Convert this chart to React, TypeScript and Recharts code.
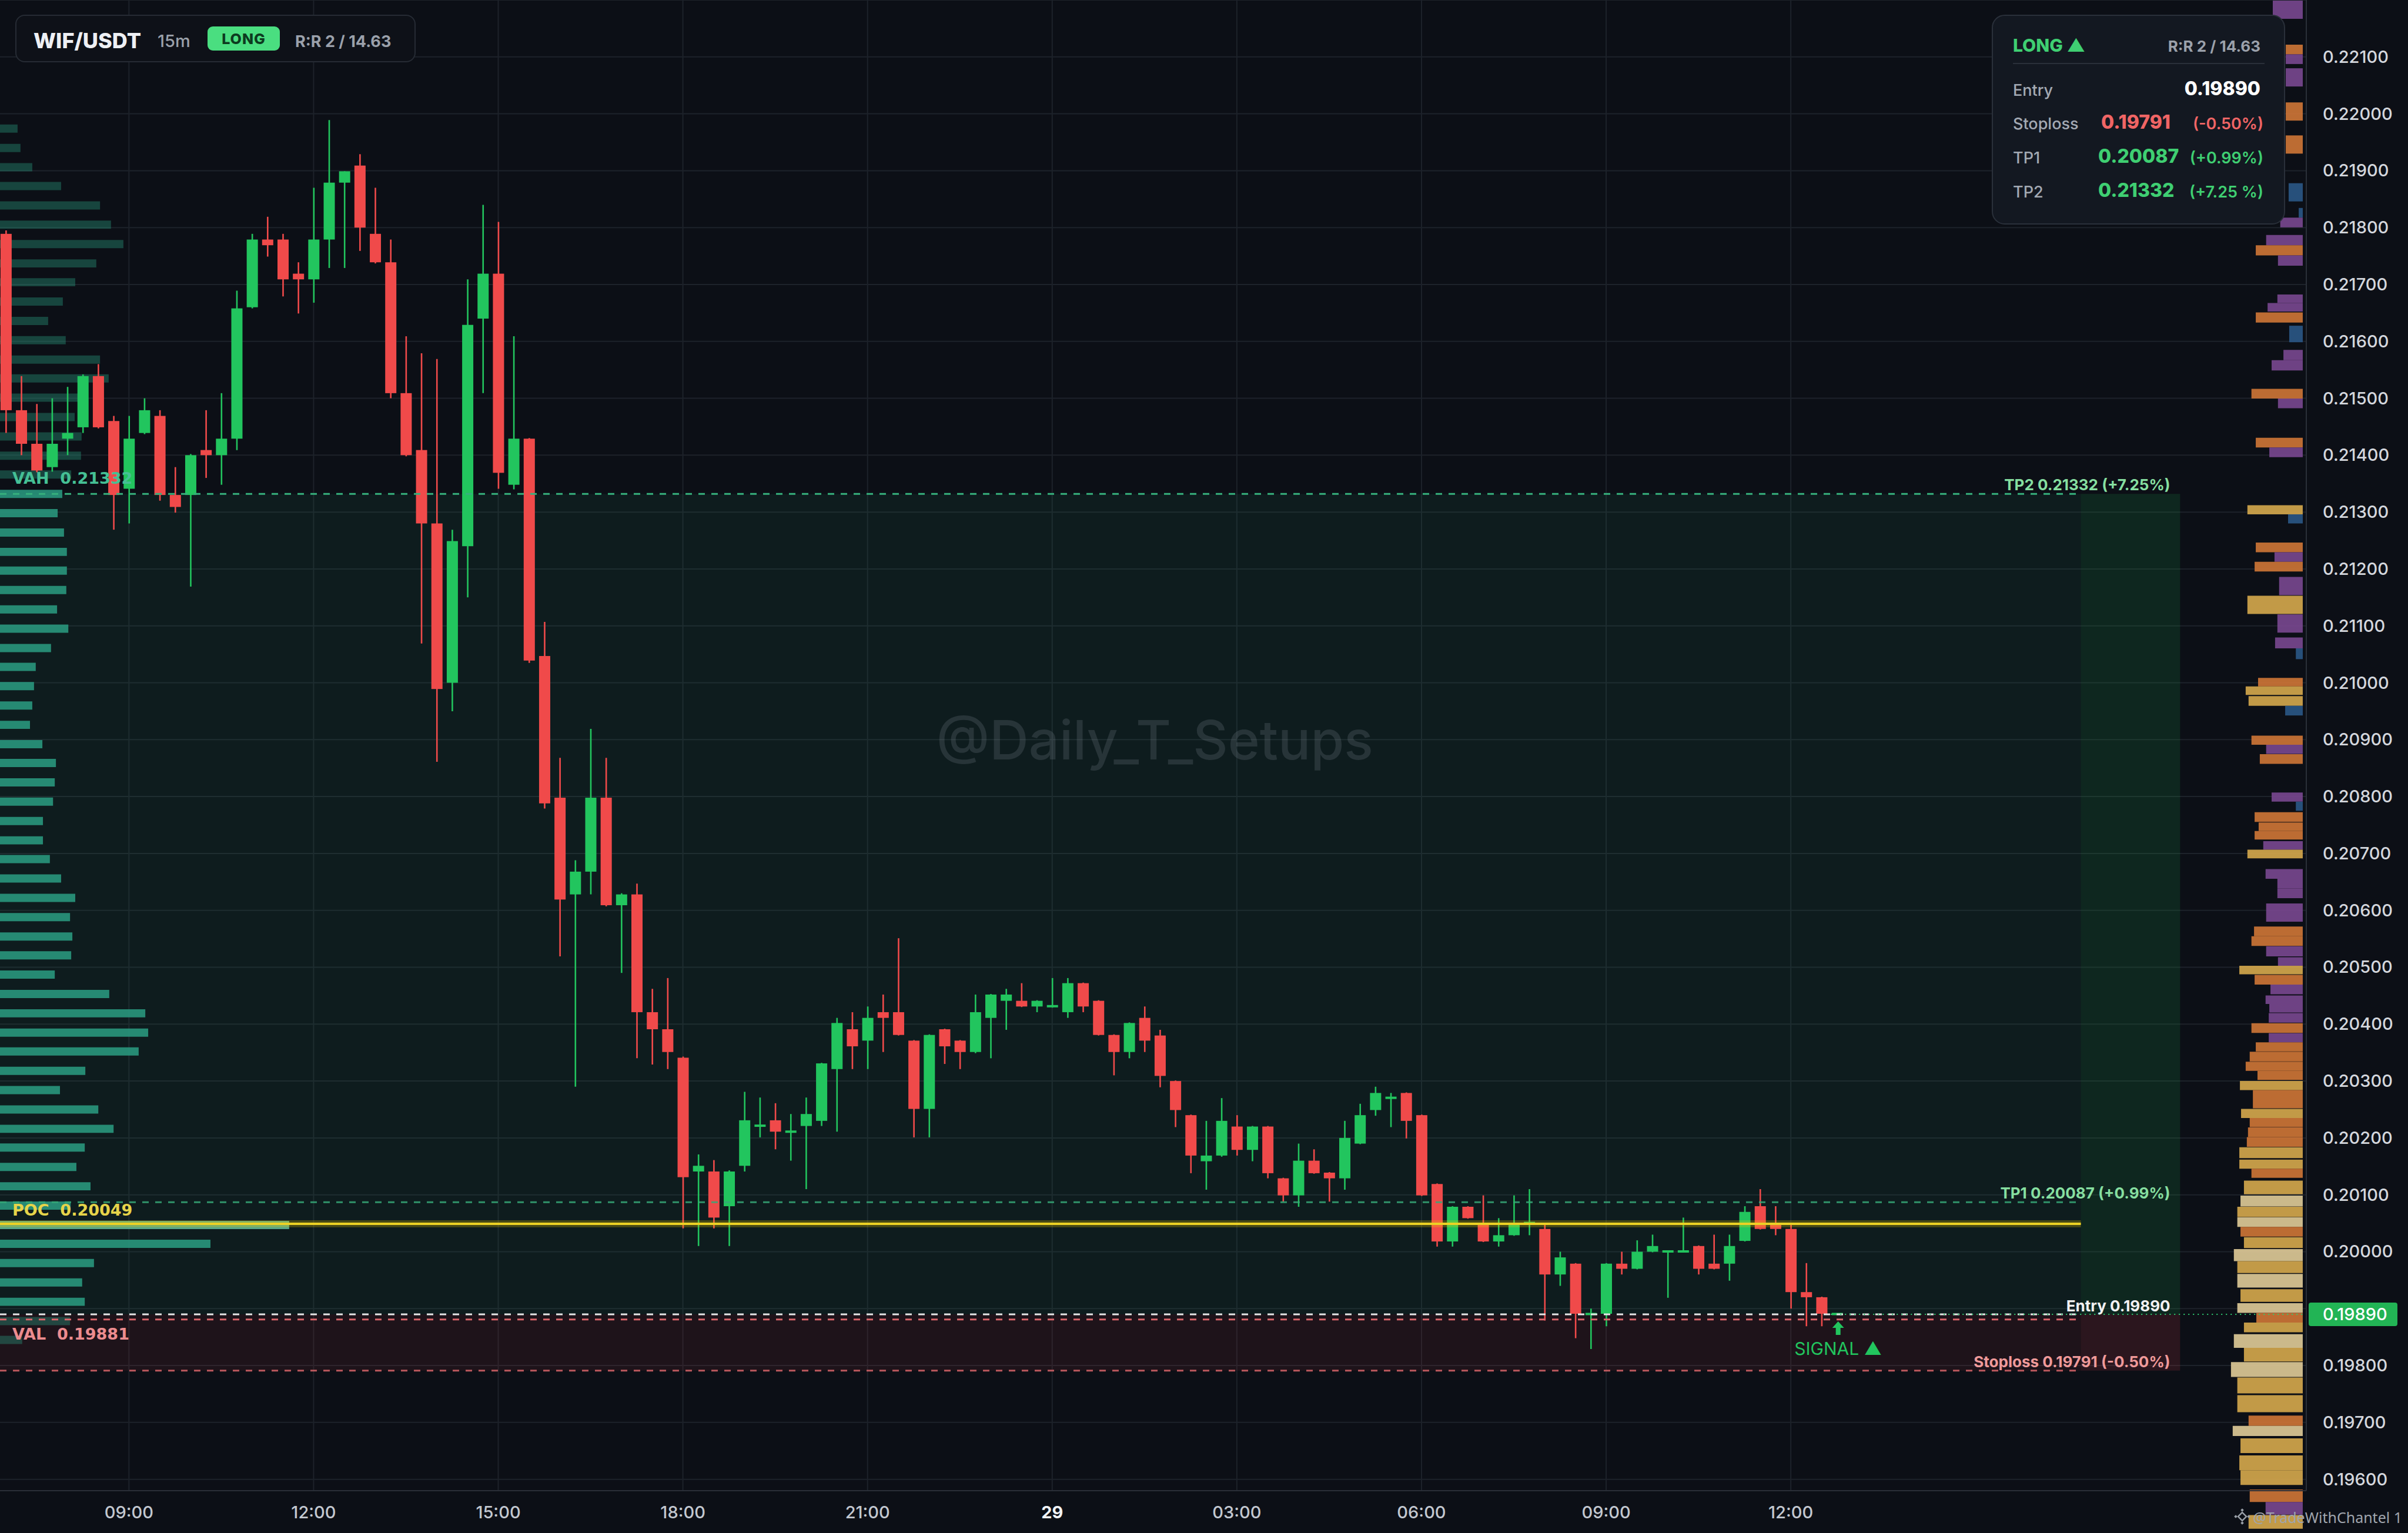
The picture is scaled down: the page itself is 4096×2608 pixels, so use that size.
import React from "react";
import {
  ComposedChart,
  Bar,
  XAxis,
  YAxis,
  CartesianGrid,
  ReferenceArea,
  ReferenceLine,
  ReferenceDot,
} from "recharts";

// ---------------- DATA ----------------
const cOpen = [0.21789,0.21479,0.21420,0.21379,0.21429,0.21449,0.21539,0.21460,0.21341,0.21439,
0.21469,0.21330,0.21330,0.21409,0.21400,0.21429,0.21660,0.21779,0.21779,0.21719,
0.21709,0.21779,0.21879,0.21909,0.21789,0.21739,0.21509,0.21409,0.21280,0.21000,
0.21240,0.21640,0.21719,0.21348,0.21429,0.21047,0.20798,0.20628,0.20668,0.20798,
0.20609,0.20628,0.20421,0.20391,0.20341,0.20141,0.20141,0.20080,0.20151,0.20220,
0.20231,0.20210,0.20221,0.20230,0.20321,0.20391,0.20371,0.20421,0.20421,0.20371,
0.20251,0.20391,0.20371,0.20351,0.20411,0.20441,0.20441,0.20431,0.20431,0.20421,
0.20472,0.20441,0.20381,0.20351,0.20411,0.20380,0.20300,0.20240,0.20159,0.20169,
0.20220,0.20179,0.20220,0.20129,0.20099,0.20160,0.20139,0.20129,0.20190,0.20249,
0.20270,0.20279,0.20240,0.20119,0.20018,0.20079,0.20049,0.20018,0.20029,0.20050,
0.20040,0.19960,0.19979,0.19890,0.19891,0.19979,0.19970,0.20000,0.20000,0.20000,
0.20010,0.19979,0.19979,0.20019,0.20080,0.20049,0.20040,0.19929,0.19920,0.19890];

const cHigh = [0.21795,0.21539,0.21490,0.21500,0.21520,0.21542,0.21560,0.21469,0.21469,0.21500,
0.21479,0.21379,0.21402,0.21479,0.21509,0.21689,0.21789,0.21819,0.21789,0.21739,
0.21870,0.21989,0.21899,0.21929,0.21870,0.21779,0.21609,0.21579,0.21569,0.21269,
0.21709,0.21840,0.21810,0.21609,0.21430,0.21107,0.20868,0.20688,0.20919,0.20868,
0.20630,0.20647,0.20462,0.20481,0.20343,0.20171,0.20161,0.20143,0.20281,0.20271,
0.20261,0.20242,0.20271,0.20332,0.20411,0.20421,0.20431,0.20452,0.20551,0.20372,
0.20382,0.20392,0.20372,0.20452,0.20453,0.20462,0.20472,0.20442,0.20481,0.20481,
0.20473,0.20442,0.20382,0.20403,0.20431,0.20390,0.20301,0.20241,0.20230,0.20270,
0.20240,0.20221,0.20221,0.20130,0.20190,0.20180,0.20140,0.20230,0.20260,0.20290,
0.20279,0.20280,0.20241,0.20120,0.20080,0.20080,0.20099,0.20059,0.20099,0.20110,
0.20048,0.20000,0.19980,0.19900,0.19980,0.20000,0.20020,0.20030,0.20002,0.20060,
0.20011,0.20030,0.20030,0.20080,0.20110,0.20080,0.20048,0.19980,0.19921,0.19892];

const cLow = [0.21439,0.21400,0.21370,0.21371,0.21400,0.21439,0.21447,0.21269,0.21280,0.21437,
0.21320,0.21299,0.21169,0.21360,0.21348,0.21409,0.21658,0.21749,0.21679,0.21649,
0.21668,0.21729,0.21729,0.21759,0.21737,0.21500,0.21398,0.21069,0.20861,0.20950,
0.21150,0.21509,0.21341,0.21340,0.21035,0.20779,0.20519,0.20290,0.20628,0.20607,
0.20490,0.20340,0.20329,0.20321,0.20041,0.20010,0.20041,0.20010,0.20141,0.20201,
0.20180,0.20160,0.20110,0.20221,0.20211,0.20321,0.20321,0.20351,0.20380,0.20201,
0.20201,0.20330,0.20321,0.20349,0.20340,0.20390,0.20430,0.20421,0.20429,0.20411,
0.20421,0.20380,0.20310,0.20340,0.20351,0.20289,0.20219,0.20138,0.20109,0.20167,
0.20169,0.20159,0.20129,0.20088,0.20079,0.20137,0.20088,0.20109,0.20189,0.20239,
0.20219,0.20199,0.20098,0.20009,0.20009,0.20058,0.20017,0.20009,0.20028,0.20029,
0.19879,0.19940,0.19848,0.19829,0.19869,0.19960,0.19969,0.19999,0.19919,0.19999,
0.19960,0.19969,0.19949,0.20018,0.20039,0.20029,0.19900,0.19869,0.19869,0.19889];

const cClose = [0.21479,0.21420,0.21373,0.21420,0.21439,0.21539,0.21449,0.21330,0.21429,0.21479,
0.21330,0.21309,0.21400,0.21400,0.21429,0.21658,0.21779,0.21769,0.21709,0.21709,
0.21779,0.21879,0.21899,0.21800,0.21739,0.21509,0.21400,0.21280,0.20989,0.21249,
0.21629,0.21719,0.21369,0.21429,0.21039,0.20788,0.20619,0.20668,0.20798,0.20609,
0.20628,0.20421,0.20391,0.20351,0.20131,0.20151,0.20060,0.20141,0.20231,0.20223,
0.20211,0.20212,0.20242,0.20331,0.20402,0.20361,0.20411,0.20411,0.20381,0.20251,
0.20381,0.20361,0.20351,0.20421,0.20452,0.20452,0.20431,0.20441,0.20432,0.20472,
0.20431,0.20381,0.20351,0.20402,0.20371,0.20309,0.20249,0.20169,0.20169,0.20230,
0.20179,0.20220,0.20138,0.20099,0.20160,0.20138,0.20129,0.20200,0.20240,0.20279,
0.20271,0.20230,0.20099,0.20018,0.20079,0.20059,0.20018,0.20029,0.20049,0.20051,
0.19960,0.19990,0.19891,0.19891,0.19979,0.19970,0.20000,0.20010,0.20001,0.20001,
0.19970,0.19970,0.20010,0.20070,0.20040,0.20040,0.19929,0.19920,0.19891,0.19891];

const timeTickIdx = [8, 20, 32, 44, 56, 68, 80, 92, 104, 116];
const timeTickLabels = ["09:00", "12:00", "15:00", "18:00", "21:00", "29", "03:00", "06:00", "09:00", "12:00"];

const priceTicks = [0.196, 0.197, 0.198, 0.2, 0.201, 0.202, 0.203, 0.204, 0.205, 0.206, 0.207, 0.208,
  0.209, 0.21, 0.211, 0.212, 0.213, 0.214, 0.215, 0.216, 0.217, 0.218, 0.219, 0.22, 0.221];
const gridPrices = [0.196, 0.197, 0.198, 0.199, 0.2, 0.201, 0.202, 0.203, 0.204, 0.205, 0.206, 0.207, 0.208,
  0.209, 0.21, 0.211, 0.212, 0.213, 0.214, 0.215, 0.216, 0.217, 0.218, 0.219, 0.22, 0.221, 0.222];

// left volume profile (price level, volume)
const lvPrice = [0.21974,0.21940,0.21906,0.21873,0.21839,0.21805,0.21771,0.21737,0.21704,0.21670,
0.21636,0.21602,0.21568,0.21535,0.21501,0.21467,0.21433,0.21399,0.21366,0.21332,
0.21298,0.21264,0.21230,0.21197,0.21163,0.21129,0.21095,0.21061,0.21028,0.20994,
0.20960,0.20926,0.20892,0.20859,0.20825,0.20791,0.20757,0.20723,0.20690,0.20656,
0.20622,0.20588,0.20554,0.20521,0.20487,0.20453,0.20419,0.20385,0.20352,0.20318,
0.20284,0.20250,0.20216,0.20183,0.20149,0.20115,0.20081,0.20047,0.20014,0.19980,
0.19946,0.19912,0.19878,0.19845];
const lvVol = [6.1,7.1,11.2,21.2,34.7,38.5,42.8,33.4,26.1,21.8,
16.7,22.8,34.7,37.7,28.3,25.9,28.3,28.1,24.7,21.6,
20.0,22.2,23.2,23.2,23.0,19.8,23.7,17.7,12.4,11.8,
11.2,10.4,14.7,19.4,19.0,18.4,14.9,14.9,17.3,21.2,
26.1,24.3,25.1,24.7,19.0,37.9,50.4,51.4,48.1,29.6,
20.8,34.1,39.4,29.4,26.5,31.4,24.5,100.3,73.0,32.6,
28.5,29.4,24.3,7.7];

// right volume heat profile (price level, volume, tier)
const rvPrice = [0.22183,0.22113,0.22096,0.22064,0.22004,0.21946,0.21862,0.21826,0.21809,0.21778,
0.21760,0.21742,0.21675,0.21660,0.21642,0.21613,0.21576,0.21558,0.21508,0.21491,
0.21422,0.21405,0.21304,0.21288,0.21238,0.21221,0.21204,0.21170,0.21137,0.21104,
0.21070,0.21051,0.21001,0.20986,0.20968,0.20951,0.20899,0.20883,0.20866,0.20799,
0.20783,0.20764,0.20747,0.20732,0.20714,0.20699,0.20664,0.20647,0.20630,0.20596,
0.20563,0.20546,0.20528,0.20510,0.20495,0.20478,0.20461,0.20443,0.20428,0.20411,
0.20393,0.20376,0.20360,0.20343,0.20326,0.20310,0.20292,0.20276,0.20260,0.20243,
0.20227,0.20210,0.20193,0.20174,0.20154,0.20138,0.20113,0.20089,0.20070,0.20052,
0.20035,0.20016,0.19994,0.19973,0.19949,0.19923,0.19901,0.19884,0.19867,0.19843,
0.19819,0.19793,0.19765,0.19733,0.19703,0.19685,0.19659,0.19629,0.19603,0.19571,
0.19549,0.19525];
const rvVol = [10.4,5.9,5.9,5.9,5.9,5.9,4.9,1.4,7.8,12.7,
16.3,8.6,8.8,12.2,16.3,4.7,6.7,10.8,17.8,8.6,
16.3,11.6,19.2,5.1,16.3,9.8,16.7,8.2,19.2,8.8,
9.6,2.4,15.5,19.8,18.8,6.1,17.8,12.7,14.9,10.8,
2.4,16.7,15.3,16.7,13.7,19.2,12.9,8.8,8.8,12.7,
16.9,17.8,12.7,8.6,22.0,16.7,11.2,12.9,11.6,11.8,
17.8,11.8,16.3,18.4,19.8,15.7,21.8,17.3,17.3,21.4,
18.4,19.0,19.4,22.0,22.0,17.8,20.4,21.6,22.7,22.7,
21.6,20.4,23.9,22.7,22.7,21.6,22.7,16.1,20.4,23.9,
20.4,24.9,22.7,22.7,18.8,24.3,21.6,22.0,21.6,18.4,
12.9,18.8];
const rvTier = ["P","O","P","P","O","O","B","B","P","P",
"O","P","P","P","O","B","P","P","O","P",
"O","P","G","B","O","P","O","P","G","P",
"P","B","O","G","G","B","O","P","O","P",
"B","O","O","O","P","G","P","P","P","P",
"O","O","P","P","G","O","P","P","P","P",
"O","P","O","O","O","O","G","O","O","G",
"O","O","O","G","G","O","G","C","G","C",
"O","G","C","G","C","G","C","O","G","C",
"G","C","G","G","O","C","G","G","G","O",
"P","G"];

const ENTRY = 0.1989;
const STOP = 0.19791;
const TP1 = 0.20087;
const TP2 = 0.21332;
const VAH = 0.21332;
const POC = 0.20049;
const VAL = 0.19881;

// ---------------- LAYOUT / STYLE ----------------
const W = 4096;
const H = 2608;
const X_MIN = -0.38;
const X_MAX = 149.5;
const Y_MIN = 0.1958;
const Y_MAX = 0.222;
const ZONE_END = 134.85;
const COL_END = 141.3;
const LABEL_X = 140.66;
const RV_EDGE = 149.27;
const VOL_SPAN = 800; // volume units across the full plot width
const VOL_TO_X = (X_MAX - X_MIN) / VOL_SPAN;
const FONT = "Inter, 'Noto Sans', sans-serif";
const GREEN = "#22c55e";
const RED = "#f04a4a";
const BG = "#0c0f16";
const MARGIN = { top: 0, right: 0, bottom: 0, left: 0 };
const tierColor: Record<string, string> = {
  G: "#d3a64c",
  O: "#cc7436",
  P: "#77468e",
  B: "#2a5684",
  C: "#dcc896",
};

const candles = cOpen.map((o, i) => ({ i, o, h: cHigh[i], l: cLow[i], c: cClose[i] }));

const rvHalf = rvPrice.map((p, k) => {
  const up = k > 0 ? Math.abs(rvPrice[k - 1] - p) : Infinity;
  const dn = k < rvPrice.length - 1 ? Math.abs(rvPrice[k + 1] - p) : Infinity;
  return Math.min(Math.min(up, dn) * 0.5, 0.00016);
});

function Candle(props: any) {
  const { x, y, width, height } = props;
  const d = props.payload || props;
  if (x == null || y == null || d == null || d.h == null) return null;
  const top = Math.min(y, y + height);
  const hh = Math.abs(height);
  const range = d.h - d.l;
  const k = range > 0 ? hh / range : 0;
  const bTop = top + (d.h - Math.max(d.o, d.c)) * k;
  const bBot = top + (d.h - Math.min(d.o, d.c)) * k;
  const col = d.c >= d.o ? GREEN : RED;
  const cx = x + width / 2;
  let by = bTop;
  let bh = bBot - bTop;
  if (bh < 4) {
    by = (bTop + bBot) / 2 - 2;
    bh = 4;
  }
  return (
    <g>
      <line x1={cx} x2={cx} y1={top} y2={top + hh} stroke={col} strokeWidth={2.6} />
      <rect x={x} y={by} width={width} height={bh} fill={col} />
    </g>
  );
}

const TimeTick = (p: any) => {
  const idx = timeTickIdx.indexOf(p.payload.value);
  const lab = idx >= 0 ? timeTickLabels[idx] : "";
  const bold = lab === "29";
  return (
    <text x={p.x} y={p.y} dy={47} textAnchor="middle" fill={bold ? "#f1f3f6" : "#c3c8d0"}
      fontSize={29} fontWeight={bold ? 700 : 500} fontFamily={FONT}>
      {lab}
    </text>
  );
};

const PriceTick = (p: any) => (
  <text x={p.x + 28} y={p.y} dy={10} textAnchor="start" fill="#d4d7dd" fontSize={29}
    fontWeight={500} fontFamily={FONT}>
    {Number(p.payload.value).toFixed(5)}
  </text>
);

const leftLabel = (text: string, color: string, dy: number) => (p: any) => (
  <text x={p.cx + 21} y={p.cy + dy} fill={color} fontSize={27} fontWeight={700}
    fontFamily="'DejaVu Sans', sans-serif" xmlSpace="preserve" style={{ whiteSpace: "pre" }}>
    {text}
  </text>
);

const rightLabel = (text: string, color: string, dy: number) => (p: any) => (
  <text x={p.cx} y={p.cy + dy} fill={color} fontSize={26} fontWeight={700} textAnchor="end"
    fontFamily={FONT}>
    {text}
  </text>
);

const watermark = (p: any) => (
  <text x={p.cx} y={p.cy} textAnchor="middle" dominantBaseline="central" fill="#8c96a0"
    fillOpacity={0.2} fontSize={92} fontWeight={500} fontFamily={FONT}>
    @Daily_T_Setups
  </text>
);

const signal = (p: any) => {
  const x = p.cx + 2;
  const y = p.cy;
  return (
    <g>
      <polygon
        points={`${x},${y + 12} ${x + 10},${y + 23} ${x + 4},${y + 23} ${x + 4},${y + 35} ${x - 4},${y + 35} ${x - 4},${y + 23} ${x - 10},${y + 23}`}
        fill={GREEN}
      />
      <text x={x} y={y + 69} textAnchor="middle" fill={GREEN} fontSize={30} fontWeight={400}
        fontFamily={FONT}>
        SIGNAL ▲
      </text>
    </g>
  );
};

const priceTag = (p: any) => (
  <g>
    <rect x={p.cx + 4} y={p.cy - 20} width={151} height={40} rx={4} fill="#22b455" />
    <text x={p.cx + 28} y={p.cy + 10} fill="#ffffff" fontSize={29} fontWeight={500} fontFamily={FONT}>
      0.19890
    </text>
  </g>
);

function T({ x, base, size, weight = 500, color, children, anchor = "start", family = FONT, ls }: any) {
  const style: any = {
    position: "absolute",
    top: base - 0.863 * size,
    fontSize: size,
    fontWeight: weight,
    color,
    lineHeight: 1,
    whiteSpace: "pre",
    fontFamily: family,
    letterSpacing: ls,
    zIndex: 5,
  };
  if (anchor === "end") style.right = W - x;
  else style.left = x;
  return <div style={style}>{children}</div>;
}

export default function App() {
  const dash = "11 11";
  return (
    <div style={{ position: "relative", width: W, height: H, background: BG, overflow: "hidden" }}>
      <style>{"html,body{margin:0;padding:0;background:#0c0f16;}"}</style>
      <div style={{ position: "absolute", left: 0, top: 0, zIndex: 1 }}>
        <ComposedChart width={W} height={H} data={candles} margin={MARGIN}>
          <CartesianGrid stroke="#1d222a" strokeWidth={2} horizontalValues={gridPrices}
            verticalValues={timeTickIdx} />
          <XAxis dataKey="i" type="number" domain={[X_MIN, X_MAX]} allowDataOverflow ticks={timeTickIdx}
            interval={0} height={72} tickSize={0} tickMargin={0} tick={<TimeTick />}
            axisLine={{ stroke: "#2a2f38", strokeWidth: 2 }} />
          <YAxis orientation="right" type="number" domain={[Y_MIN, Y_MAX]} allowDataOverflow width={173}
            ticks={priceTicks} interval={0} tickSize={0} tickMargin={0} tick={<PriceTick />}
            axisLine={{ stroke: "#2a2f38", strokeWidth: 2 }} />

          {/* trade zones */}
          <ReferenceArea x1={X_MIN} x2={ZONE_END} y1={ENTRY} y2={TP2} fill="#289068" fillOpacity={0.1}
            stroke="none" ifOverflow="visible" />
          <ReferenceArea x1={ZONE_END} x2={COL_END} y1={ENTRY} y2={TP2} fill="#1ea050" fillOpacity={0.17}
            stroke="none" ifOverflow="visible" />
          <ReferenceArea x1={X_MIN} x2={ZONE_END} y1={STOP} y2={ENTRY} fill="#c83c46" fillOpacity={0.1}
            stroke="none" ifOverflow="visible" />
          <ReferenceArea x1={ZONE_END} x2={COL_END} y1={STOP} y2={ENTRY} fill="#c83c46" fillOpacity={0.17}
            stroke="none" ifOverflow="visible" />

          {/* left volume profile */}
          {lvPrice.map((p, k) => {
            const inVA = p <= VAH + 0.0001 && p >= VAL;
            const isPoc = Math.abs(p - POC) < 0.0001;
            return (
              <ReferenceArea key={"lv" + k} x1={X_MIN} x2={X_MIN + lvVol[k] * VOL_TO_X} y1={p - 0.000072}
                y2={p + 0.000072} fill={isPoc ? "#5fb592" : "#2a9d82"}
                fillOpacity={isPoc ? 0.9 : inVA ? 0.85 : 0.38} stroke="none" ifOverflow="visible" />
            );
          })}

          {/* right volume heat profile */}
          {rvPrice.map((p, k) => (
            <ReferenceArea key={"rv" + k} x1={RV_EDGE - rvVol[k] * VOL_TO_X} x2={RV_EDGE}
              y1={p - rvHalf[k]} y2={p + rvHalf[k]} fill={tierColor[rvTier[k]]} fillOpacity={0.92}
              stroke="none" ifOverflow="visible" />
          ))}

          <Bar dataKey={(d: any) => [d.l, d.h]} barSize={19} shape={<Candle />} isAnimationActive={false} />

          {/* level lines */}
          <ReferenceLine segment={[{ x: X_MIN, y: TP2 }, { x: ZONE_END, y: TP2 }]} stroke="#36b07c"
            strokeWidth={3} strokeDasharray={dash} ifOverflow="visible" />
          <ReferenceLine segment={[{ x: X_MIN, y: TP1 }, { x: ZONE_END, y: TP1 }]} stroke="#36a878"
            strokeOpacity={0.85} strokeWidth={3} strokeDasharray={dash} ifOverflow="visible" />
          <ReferenceLine segment={[{ x: X_MIN, y: POC }, { x: ZONE_END, y: POC }]} stroke="#f5d000"
            strokeOpacity={0.25} strokeWidth={12} ifOverflow="visible" />
          <ReferenceLine segment={[{ x: X_MIN, y: POC }, { x: ZONE_END, y: POC }]} stroke="#ecd124"
            strokeWidth={4} ifOverflow="visible" />
          <ReferenceLine segment={[{ x: X_MIN, y: ENTRY }, { x: ZONE_END, y: ENTRY }]} stroke="#e6e6e6"
            strokeWidth={3} strokeDasharray={dash} ifOverflow="visible" />
          <ReferenceLine segment={[{ x: X_MIN, y: VAL }, { x: ZONE_END, y: VAL }]} stroke="#d9656a"
            strokeWidth={3} strokeDasharray={dash} ifOverflow="visible" />
          <ReferenceLine segment={[{ x: X_MIN, y: STOP }, { x: ZONE_END, y: STOP }]} stroke="#d9656a"
            strokeOpacity={0.85} strokeWidth={3} strokeDasharray={dash} ifOverflow="visible" />
          <ReferenceLine segment={[{ x: 118.6, y: ENTRY }, { x: X_MAX, y: ENTRY }]} stroke="#2ecc71"
            strokeWidth={2} strokeDasharray="2 6" ifOverflow="visible" />
        </ComposedChart>
      </div>

      {/* text layer: same scales, drawn above the candles */}
      <div style={{ position: "absolute", left: 0, top: 0, zIndex: 2, pointerEvents: "none" }}>
        <ComposedChart width={W} height={H} data={candles} margin={MARGIN}>
          <XAxis dataKey="i" type="number" domain={[X_MIN, X_MAX]} allowDataOverflow height={72}
            tick={false} tickLine={false} axisLine={false} />
          <YAxis orientation="right" type="number" domain={[Y_MIN, Y_MAX]} allowDataOverflow width={173}
            tick={false} tickLine={false} axisLine={false} />
          <ReferenceDot x={74.67} y={0.209} ifOverflow="visible" shape={watermark} />
          <ReferenceDot x={X_MIN} y={VAH} ifOverflow="visible" shape={leftLabel("VAH  0.21332", "#45c095", -17)} />
          <ReferenceDot x={X_MIN} y={POC} ifOverflow="visible" shape={leftLabel("POC  0.20049", "#e6d44a", -14)} />
          <ReferenceDot x={X_MIN} y={VAL} ifOverflow="visible" shape={leftLabel("VAL  0.19881", "#ec8c8f", 34)} />
          <ReferenceDot x={LABEL_X} y={TP2} ifOverflow="visible" shape={rightLabel("TP2 0.21332 (+7.25%)", "#86dfa0", -6)} />
          <ReferenceDot x={LABEL_X} y={TP1} ifOverflow="visible" shape={rightLabel("TP1 0.20087 (+0.99%)", "#86dfa0", -6)} />
          <ReferenceDot x={LABEL_X} y={ENTRY} ifOverflow="visible" shape={rightLabel("Entry 0.19890", "#f2f2f2", -5)} />
          <ReferenceDot x={LABEL_X} y={STOP} ifOverflow="visible" shape={rightLabel("Stoploss 0.19791 (-0.50%)", "#f09a9a", -6)} />
          <ReferenceDot x={119} y={ENTRY} ifOverflow="visible" shape={signal} />
          <ReferenceDot x={X_MAX} y={ENTRY} ifOverflow="visible" shape={priceTag} />
        </ComposedChart>
      </div>

      {/* header box */}
      <div style={{ position: "absolute", left: 26, top: 25, width: 681, height: 81, boxSizing: "border-box",
        border: "2px solid #262b34", borderRadius: 16, background: "#0e1118", zIndex: 4 }} />
      <T x={57} base={82} size={36} weight={800} color="#eef0f4">WIF/USDT</T>
      <T x={268} base={80} size={29} weight={500} color="#9ba1ab">15m</T>
      <div style={{ position: "absolute", left: 353, top: 45, width: 123, height: 41, borderRadius: 9,
        background: "#4ade80", display: "flex", alignItems: "center", justifyContent: "center",
        fontFamily: FONT, fontWeight: 800, fontSize: 25, color: "#0d3b1f", letterSpacing: 1, zIndex: 5 }}>LONG</div>
      <T x={502} base={80} size={27} weight={700} color="#9ba1ab">R:R 2 / 14.63</T>

      {/* info box */}
      <div style={{ position: "absolute", left: 3388, top: 25, width: 499, height: 357, boxSizing: "border-box",
        border: "2px solid #2a303a", borderRadius: 22, background: "#131821", zIndex: 4 }} />
      <T x={3424} base={88} size={30} weight={800} color="#3fcf72">LONG ▲</T>
      <T x={3845} base={88} size={26} weight={700} color="#9ba1ab" anchor="end">R:R 2 / 14.63</T>
      <div style={{ position: "absolute", left: 3424, top: 107, width: 428, height: 2, background: "#2a303a", zIndex: 5 }} />
      <T x={3424} base={163} size={27} weight={500} color="#a3a9b3">Entry</T>
      <T x={3845} base={163} size={32} weight={800} color="#ffffff" anchor="end">0.19890</T>
      <T x={3424} base={220} size={27} weight={500} color="#a3a9b3">Stoploss</T>
      <T x={3574} base={220} size={32} weight={800} color="#f06565">0.19791</T>
      <T x={3850} base={220} size={27} weight={600} color="#f06565" anchor="end">(-0.50%)</T>
      <T x={3424} base={278} size={27} weight={500} color="#a3a9b3">TP1</T>
      <T x={3569} base={278} size={32} weight={800} color="#3fcf72">0.20087</T>
      <T x={3850} base={278} size={27} weight={600} color="#3fcf72" anchor="end">(+0.99%)</T>
      <T x={3424} base={336} size={27} weight={500} color="#a3a9b3">TP2</T>
      <T x={3569} base={336} size={32} weight={800} color="#3fcf72">0.21332</T>
      <T x={3850} base={336} size={27} weight={600} color="#3fcf72" anchor="end">(+7.25 %)</T>

      {/* credit */}
      <svg style={{ position: "absolute", left: 3800, top: 2566, zIndex: 5 }} width={28} height={28} viewBox="0 0 28 28">
        <g fill="none" stroke="#9aa0a8" strokeWidth={2.4}>
          <rect x={9} y={9} width={10} height={10} transform="rotate(45 14 14)" />
        </g>
        <g fill="#9aa0a8">
          <rect x={12} y={1} width={4} height={4} transform="rotate(45 14 3)" />
          <rect x={12} y={23} width={4} height={4} transform="rotate(45 14 25)" />
          <rect x={1} y={12} width={4} height={4} transform="rotate(45 3 14)" />
          <rect x={23} y={12} width={4} height={4} transform="rotate(45 25 14)" />
        </g>
      </svg>
      <T x={4086} base={2591} size={25} weight={400} color="#a0a5ad" anchor="end"
        family="'Noto Sans', sans-serif">@TradeWithChantel 1</T>
    </div>
  );
}
